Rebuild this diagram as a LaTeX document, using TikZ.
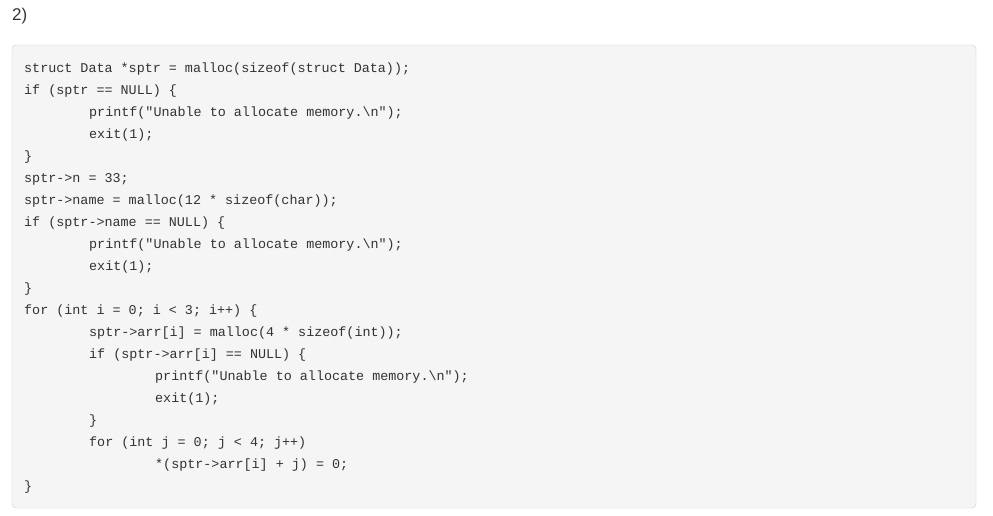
\documentclass[tikz,border=0pt]{standalone}
\usepackage{fontspec}
\setmainfont{Liberation Sans}
\newfontfamily\codefont{Liberation Mono}
\definecolor{boxfill}{HTML}{F5F5F5}
\definecolor{boxline}{HTML}{CCCCCC}
\definecolor{txt}{HTML}{333333}
\begin{document}
\begin{tikzpicture}[x=1pt,y=-1pt,
  code/.style={anchor=base west,inner sep=0pt,text=txt,font=\codefont\fontsize{13.4}{15}\selectfont}]
\useasboundingbox (0,0) rectangle (993,515);
\node[anchor=base west,inner sep=0pt,text=txt,font=\fontsize{17}{20}\selectfont] (title) at (12,20) {2)};
\draw[boxline,fill=boxfill,rounded corners=4pt] (12,45) rectangle (976,508);
\def\ia{24}\def\ib{89}\def\ic{155}
\node[code] (l1) at (\ia,72) {struct Data *sptr = malloc(sizeof(struct Data));};
\node[code] (l2) at (\ia,94) {if (sptr == NULL) \{};
\node[code] (l3) at (\ib,116) {printf("Unable to allocate memory.\textbackslash n");};
\node[code] (l4) at (\ib,138) {exit(1);};
\node[code] (l5) at (\ia,160) {\}};
\node[code] (l6) at (\ia,182) {sptr->n = 33;};
\node[code] (l7) at (\ia,204) {sptr->name = malloc(12 * sizeof(char));};
\node[code] (l8) at (\ia,226) {if (sptr->name == NULL) \{};
\node[code] (l9) at (\ib,248) {printf("Unable to allocate memory.\textbackslash n");};
\node[code] (l10) at (\ib,270) {exit(1);};
\node[code] (l11) at (\ia,292) {\}};
\node[code] (l12) at (\ia,314) {for (int i = 0; i < 3; i++) \{};
\node[code] (l13) at (\ib,336) {sptr->arr[i] = malloc(4 * sizeof(int));};
\node[code] (l14) at (\ib,358) {if (sptr->arr[i] == NULL) \{};
\node[code] (l15) at (\ic,380) {printf("Unable to allocate memory.\textbackslash n");};
\node[code] (l16) at (\ic,402) {exit(1);};
\node[code] (l17) at (\ib,424) {\}};
\node[code] (l18) at (\ib,446) {for (int j = 0; j < 4; j++)};
\node[code] (l19) at (\ic,468) {*(sptr->arr[i] + j) = 0;};
\node[code] (l20) at (\ia,490) {\}};
\end{tikzpicture}
\end{document}
